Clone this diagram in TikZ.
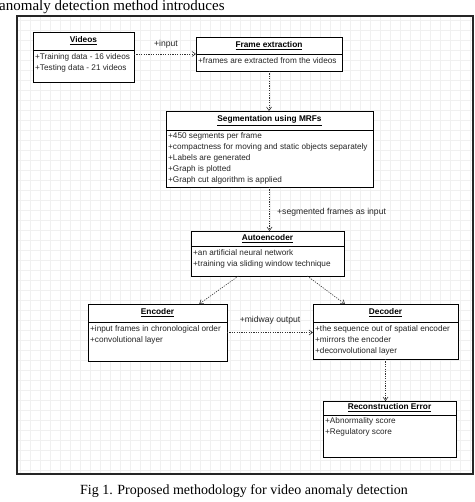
\documentclass[tikz,border=0pt]{standalone}
\usepackage{fontspec}
\setmainfont{Liberation Serif}
\newfontfamily\boxfont{Liberation Sans}
\usetikzlibrary{arrows.meta,calc}
\begin{document}
\begin{tikzpicture}[x=1pt,y=-1pt,
  umlbox/.style={draw=black,line width=0.7pt,fill=white,anchor=north west,inner sep=0pt,outer sep=0pt},
  head/.style={font=\boxfont\fontsize{8.3}{10}\selectfont\bfseries,inner sep=0pt},
  body/.style={font=\boxfont\fontsize{8.2}{11}\selectfont,align=left,anchor=north west,inner sep=0pt,text=black!85,xshift=2pt,yshift=-3pt},
  dep/.style={draw=black!80,line width=0.6pt,dash pattern=on 1.2pt off 1.2pt,-{Straight Barb[length=3.5pt,width=5pt]}},
  lbl/.style={font=\boxfont\fontsize{8.6}{10}\selectfont,inner sep=0pt,text=black!85}]
\useasboundingbox (0,0) rectangle (474,502);
\fill[white] (0,0) rectangle (474,502);
% frame with grid
\begin{scope}
\clip (17,16) rectangle (473,474);
\draw[black!6,line width=0.3pt,step=10pt] (17,16) grid (473,474);
\end{scope}
\draw[black!85,line width=1.1pt] (17,16) rectangle (473,474);
% top text and caption
\node[anchor=west,inner sep=0pt,font=\fontsize{15}{17}\selectfont] (toptext) at (-1,7) {anomaly detection method introduces};
\node[inner sep=0pt,font=\fontsize{14}{16}\selectfont] (caption) at (244,491) {Fig 1. Proposed methodology for video anomaly detection};
% Videos
\node[umlbox,minimum width=101pt,minimum height=50pt] (videos) at (33,32) {};
\draw[line width=0.7pt] (33,50) -- (134,50);
\node[head] (videosh) at (83.5,41) {\underline{Videos}};
\node[body] (videosb) at (33,50) {+Training data - 16 videos\\+Testing data - 21 videos};
% Frame extraction
\node[umlbox,minimum width=146pt,minimum height=34pt] (frame) at (196,37) {};
\draw[line width=0.7pt] (196,54) -- (342,54);
\node[head] (frameh) at (269,45.5) {\underline{Frame extraction}};
\node[body] (frameb) at (196,54) {+frames are extracted from the videos};
% Segmentation
\node[umlbox,minimum width=207pt,minimum height=76pt] (seg) at (166,111) {};
\draw[line width=0.7pt] (166,130) -- (373,130);
\node[head] (segh) at (269.5,120.5) {\underline{Segmentation using MRFs}};
\node[body] (segb) at (166,129.5) {+450 segments per frame\\+compactness for moving and static objects separately\\+Labels are generated\\+Graph is plotted\\+Graph cut algorithm is applied};
% Autoencoder
\node[umlbox,minimum width=153pt,minimum height=45pt] (auto) at (191,231) {};
\draw[line width=0.7pt] (191,246) -- (344,246);
\node[head] (autoh) at (267.5,238.5) {\underline{Autoencoder}};
\node[body] (autob) at (191,246) {+an artificial neural network\\+training via sliding window technique};
% Encoder
\node[umlbox,minimum width=139pt,minimum height=57pt] (enc) at (88,304) {};
\draw[line width=0.7pt] (88,322) -- (227,322);
\node[head] (ench) at (157.5,313) {\underline{Encoder}};
\node[body] (encb) at (88,322) {+input frames in chronological order\\+convolutional layer};
% Decoder
\node[umlbox,minimum width=145pt,minimum height=55pt] (dec) at (313,304) {};
\draw[line width=0.7pt] (313,322) -- (458,322);
\node[head] (dech) at (385.5,313) {\underline{Decoder}};
\node[body] (decb) at (313,322) {+the sequence out of spatial encoder\\+mirrors the encoder\\+deconvolutional layer};
% Reconstruction Error
\node[umlbox,minimum width=133pt,minimum height=56pt] (rec) at (323,401) {};
\draw[line width=0.7pt] (323,415) -- (456,415);
\node[head] (rech) at (389.5,408) {\underline{Reconstruction Error}};
\node[body] (recb) at (323,414.5) {+Abnormality score\\+Regulatory score};
% connectors
\draw[dep] (videos.east |- frame.west) -- (frame.west);
\node[lbl] (l1) at (166,44) {+input};
\draw[dep] (frame.south) -- (frame.south |- seg.north);
\draw[dep] (seg.south) -- (seg.south |- auto.north);
\node[lbl,anchor=west] (l2) at (277,212) {+segmented frames as input};
\draw[dep] ($(auto.south west)!0.31!(auto.south east)$) -- ($(enc.north west)!0.8!(enc.north east)$);
\draw[dep] ($(auto.south west)!0.76!(auto.south east)$) -- ($(dec.north west)!0.22!(dec.north east)$);
\draw[dep] (enc.east) -- (enc.east -| dec.west);
\node[lbl] (l3) at (270,320) {+midway output};
\draw[dep] (dec.south) -- (dec.south |- rec.north);
\end{tikzpicture}
\end{document}
